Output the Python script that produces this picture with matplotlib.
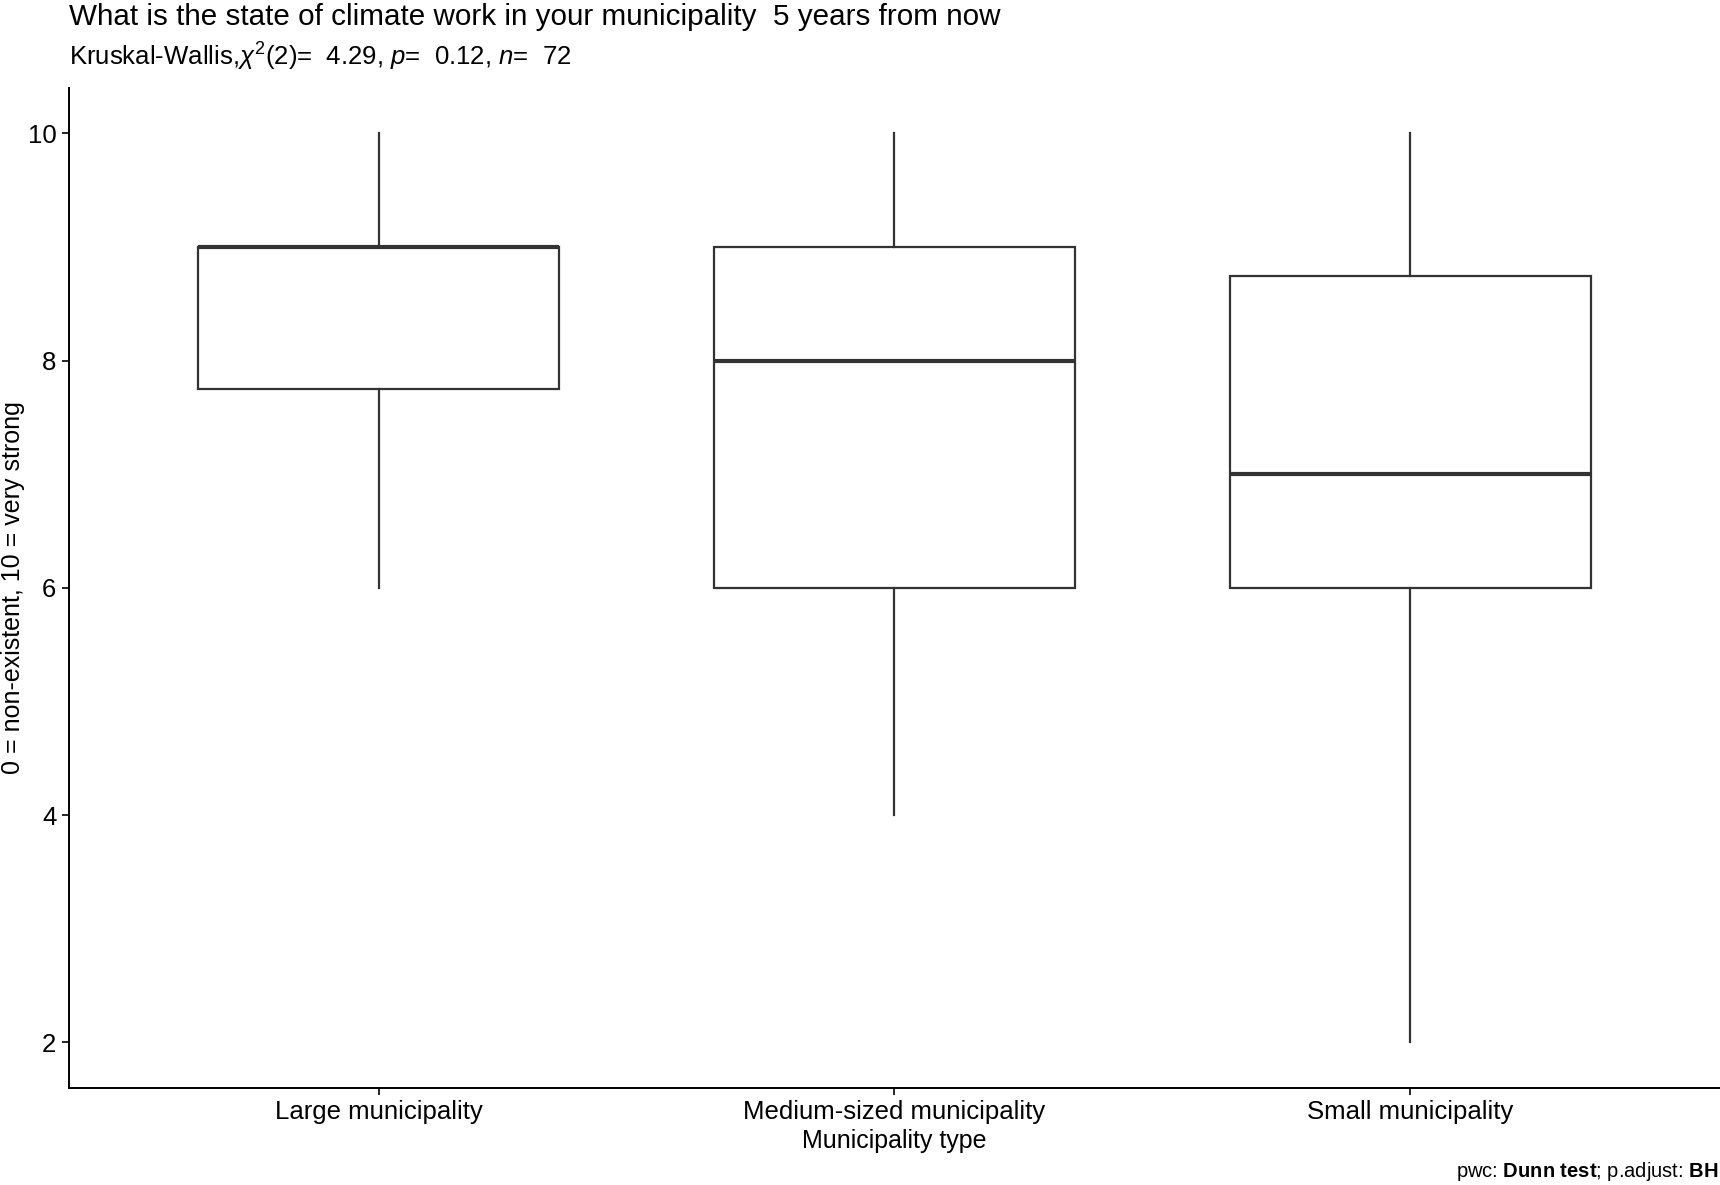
import matplotlib
matplotlib.use("Agg")
import matplotlib.pyplot as plt

# box summaries
categories = ["Large municipality", "Medium-sized municipality", "Small municipality"]
whisker_low = [6, 4, 2]
q1 = [7.75, 6, 6]
median = [9, 8, 7]
q3 = [9, 9, 8.75]
whisker_high = [10, 10, 10]
y_ticks = [2, 4, 6, 8, 10]

title = "What is the state of climate work in your municipality  5 years from now"
subtitle = r"Kruskal-Wallis,$\chi^2$(2)=  4.29, $\mathit{p}$=  0.12, $\mathit{n}$=  72"
caption = r"pwc: $\mathbf{Dunn\ test}$; p.adjust: $\mathbf{BH}$"

plt.rcParams["font.family"] = ["Liberation Sans", "DejaVu Sans"]
plt.rcParams["mathtext.fontset"] = "custom"
plt.rcParams["mathtext.rm"] = "Liberation Sans"
plt.rcParams["mathtext.it"] = "Liberation Sans:italic"
plt.rcParams["mathtext.bf"] = "Liberation Sans:bold"

line_col = "#333333"

fig = plt.figure(figsize=(17.2, 11.85), dpi=100)
ax = fig.add_axes([0.0401, 0.0819, 0.9599, 0.8438])

stats = []
for i, name in enumerate(categories):
    stats.append({
        "label": name,
        "whislo": whisker_low[i],
        "q1": q1[i],
        "med": median[i],
        "q3": q3[i],
        "whishi": whisker_high[i],
        "fliers": [],
    })

ax.bxp(
    stats,
    positions=range(1, len(categories) + 1),
    widths=0.7,
    showcaps=False,
    showfliers=False,
    patch_artist=True,
    boxprops={"facecolor": "white", "edgecolor": line_col, "linewidth": 1.6},
    whiskerprops={"color": line_col, "linewidth": 1.6},
    medianprops={"color": line_col, "linewidth": 3.0, "solid_capstyle": "butt"},
)

ax.set_xlim(0.4, 3.6)
ax.set_ylim(1.6, 10.4)
ax.set_yticks(y_ticks)
ax.set_xticks(range(1, len(categories) + 1))
ax.set_xticklabels(categories)
ax.tick_params(axis="both", labelsize=18.5, colors="black", length=5, width=1.2, pad=4)
for s in ["top", "right"]:
    ax.spines[s].set_visible(False)
for s in ["left", "bottom"]:
    ax.spines[s].set_linewidth(1.4)
    ax.spines[s].set_color("black")

ax.set_xlabel("Municipality type", fontsize=18, labelpad=3)
# y label placed by hand so it stays inside the figure
fig.text(0.0075, 0.0819 + 0.8438 / 2, "0 = non-existent, 10 = very strong",
         fontsize=18, rotation=90, ha="center", va="center")

fig.text(0.0401, 0.986, title, fontsize=21.3, ha="left", va="center")
fig.text(0.0401, 0.952, subtitle, fontsize=18.5, ha="left", va="center")
fig.text(0.999, 0.002, caption, fontsize=14.5, ha="right", va="bottom")

fig.savefig("out.png", dpi=100)
